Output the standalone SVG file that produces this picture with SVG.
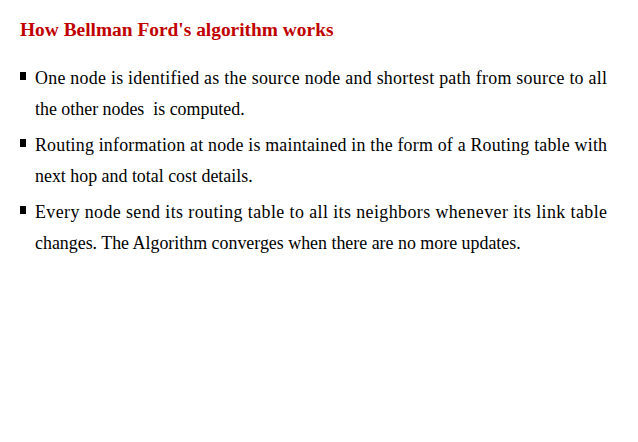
<svg xmlns="http://www.w3.org/2000/svg" width="638" height="442" viewBox="0 0 638 442">
<style>
.t{font-family:"Liberation Serif",serif;font-size:17.9px;fill:#000}
.h{font-family:"Liberation Serif",serif;font-size:19.4px;font-weight:bold;fill:#C00000}
</style>
<rect width="638" height="442" fill="#fff"/>
<text class="h" x="20" y="36">How Bellman Ford's algorithm works</text>
<g fill="#000">
<rect x="20" y="72" width="6" height="8"/>
<rect x="20" y="139" width="6" height="8"/>
<rect x="20" y="206" width="6" height="8"/>
</g>
<text class="t" x="35" y="84" textLength="572" lengthAdjust="spacing">One node is identified as the source node and shortest path from source to all</text>
<text class="t" x="35" y="115" xml:space="preserve">the other nodes  is computed.</text>
<text class="t" x="35" y="151" textLength="572" lengthAdjust="spacing">Routing information at node is maintained in the form of a Routing table with</text>
<text class="t" x="35" y="182">next hop and total cost details.</text>
<text class="t" x="35" y="218" textLength="572" lengthAdjust="spacing">Every node send its routing table to all its neighbors whenever its link table</text>
<text class="t" x="35" y="249">changes. The Algorithm converges when there are no more updates.</text>
</svg>
